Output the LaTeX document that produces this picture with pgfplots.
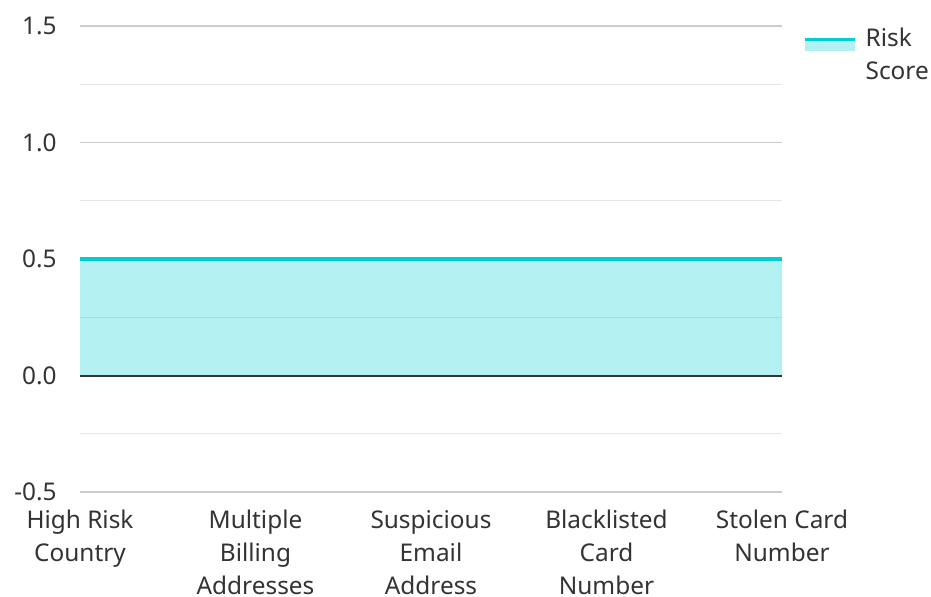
\documentclass[border=0pt]{standalone}
\usepackage{pgfplots}
\pgfplotsset{compat=1.18}
\usepackage{fontspec}
\setmainfont{Noto Sans}
\definecolor{tq}{HTML}{00CED1}
\definecolor{txt}{HTML}{333333}
\definecolor{gridmaj}{HTML}{CCCCCC}
\definecolor{gridmin}{HTML}{E6E6E6}
\begin{document}
\begin{tikzpicture}
\path[use as bounding box] (0,0) rectangle (698.25pt,447pt);
\begin{axis}[
  at={(60pt,78pt)}, anchor=south west,
  scale only axis, width=526.5pt, height=349.5pt,
  xmin=0, xmax=4, ymin=-0.5, ymax=1.5,
  axis line style={draw=none},
  tick style={draw=none},
  xtick={0,1,2,3,4},
  xticklabels={{High Risk\\Country},{Multiple\\Billing\\Addresses},{Suspicious\\Email\\Address},{Blacklisted\\Card\\Number},{Stolen Card\\Number}},
  ytick={-0.5,0,0.5,1,1.5},
  yticklabels={-0.5,0.0,0.5,1.0,1.5},
  minor ytick={-0.25,0.25,0.75,1.25},
  ymajorgrids, yminorgrids,
  major grid style={gridmaj, line width=0.9pt},
  minor grid style={gridmin, line width=0.9pt},
  ticklabel style={font=\fontsize{18.3}{24.75}\selectfont, text=txt},
  xticklabel style={align=center, anchor=north, yshift=-10pt},
  yticklabel style={anchor=east, xshift=-14pt},
  legend style={draw=none, fill=none, at={(1,1)}, anchor=north west, xshift=13pt, yshift=3pt,
    font=\fontsize{18.3}{24.75}\selectfont, text=txt, cells={anchor=base west},
    /tikz/every odd column/.append style={column sep=5pt}},
  legend image code/.code={
    \path[draw=none, fill=tq, fill opacity=0.3] (0pt,-4pt) rectangle (37pt,4.5pt);
    \draw[tq, line width=2.5pt] (0pt,5pt) -- (37pt,5pt);
  },
]
\addplot[draw=none, fill=tq, fill opacity=0.3, forget plot] coordinates {(0,0.5) (1,0.5) (2,0.5) (3,0.5) (4,0.5)} \closedcycle;
\addplot[draw=txt, line width=1.5pt, forget plot] coordinates {(0,0) (4,0)};
\addplot[draw=tq, line width=2.5pt] coordinates {(0,0.5) (1,0.5) (2,0.5) (3,0.5) (4,0.5)};
\addlegendentry{\parbox[t]{55pt}{Risk\\Score}}
\end{axis}
\end{tikzpicture}
\end{document}
